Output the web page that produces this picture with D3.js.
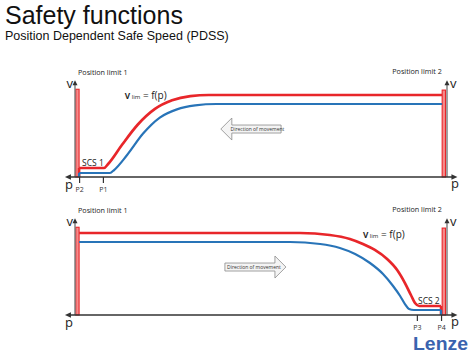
<!DOCTYPE html>
<html>
<head>
<meta charset="utf-8">
<script src="https://cdn.jsdelivr.net/npm/d3@7/dist/d3.min.js"></script>
<style>
  html, body { margin: 0; padding: 0; background: #fff; }
  svg { display: block; }
</style>
</head>
<body>
<script>
// ---------- DATA (position 0..100, speed 0..100) ----------
const titleText = "Safety functions";
const subtitleText = "Position Dependent Safe Speed (PDSS)";

// Top panel: movement towards position limit 1 (leftwards)
const topLimitCurve = [ // v_lim = f(p), red
  [1.1, 11], [7.8, 11], [8.9, 15.9], [12.6, 39], [16.9, 64], [21.5, 83],
  [26.1, 93.5], [31, 98.6], [36, 100], [40, 100], [98.7, 100]
];
const topSpeedCurve = [ // actual speed, blue
  [1.1, 4.9], [9.4, 4.9], [10.5, 8.5], [14, 26.8], [18.3, 53], [22.8, 72.5],
  [27.4, 82.5], [32.3, 87.3], [38, 89], [42, 89], [98.7, 89]
];
const topTickValues = [1.1, 7.5];
const topTickLabels = ["P2", "P1"];
const topScsLabel = "SCS 1";

// Bottom panel: movement towards position limit 2 (rightwards)
const bottomLimitCurve = [
  [1.1, 100], [55, 100], [60.5, 100], [68.5, 97.6], [73.9, 92.7], [77.4, 86.6],
  [80.6, 79.3], [83.9, 68.3], [86.6, 54.9], [88.7, 39], [90.3, 24.4],
  [91.4, 14.6], [92.5, 11], [98.4, 11]
];
const bottomSpeedCurve = [
  [1.1, 89], [52, 89], [57.8, 89], [65.9, 86.6], [71.2, 81.7], [75.3, 74.4],
  [79.3, 63.4], [82.8, 50], [85.5, 35.4], [87.4, 23.2], [88.7, 13.4],
  [89.8, 7.3], [91.1, 6.1], [98.4, 6.1]
];
const bottomTickValues = [91.9, 98.4];
const bottomTickLabels = ["P3", "P4"];
const bottomScsLabel = "SCS 2";

const limitLabels = ["Position limit 1", "Position limit 2"];
const limitBarLeft = [0.2, 1.1, 107];    // [p0, p1, top v]
const limitBarRight = [98.7, 99.6, 106];
const axisTopV = 118;
const xAxisExtent = [-2.7, 102.8];

// ---------- LAYOUT ----------
const W = 474, H = 353;
const RED = "#e8262a", BLUE = "#2874b8";
const svg = d3.select("body").append("svg").attr("width", W).attr("height", H);

svg.append("text").attr("x", 5).attr("y", 24)
  .attr("font-family", "Liberation Sans, Arial, sans-serif").attr("font-size", 25)
  .attr("fill", "#111").text(titleText);
svg.append("text").attr("x", 5).attr("y", 39.5)
  .attr("font-family", "Liberation Sans, Arial, sans-serif").attr("font-size", 12.5)
  .attr("fill", "#111").text(subtitleText);

const x = d3.scaleLinear().domain([0, 100]).range([75, 447]);
const SMALL = "Open Sans, DejaVu Sans, sans-serif";

function panel(cfg) {
  const y = d3.scaleLinear().domain([0, 100]).range([cfg.axisY, cfg.axisY - 82]);
  const g = svg.append("g");

  // limit bars
  [limitBarLeft, limitBarRight].forEach(b => {
    g.append("rect")
      .attr("x", x(b[0])).attr("width", x(b[1]) - x(b[0]))
      .attr("y", y(b[2])).attr("height", y(0) - y(b[2]))
      .attr("fill", "#f58a8a").attr("stroke", RED).attr("stroke-width", 1.1);
  });

  // vertical axes (gray) with arrowheads
  [0, 100].forEach(p => {
    g.append("line").attr("x1", x(p)).attr("x2", x(p))
      .attr("y1", y(0)).attr("y2", y(axisTopV) + 3)
      .attr("stroke", "#7a7a7a").attr("stroke-width", 1.4);
    g.append("path")
      .attr("d", `M${x(p)},${y(axisTopV)} l-2.5,5 l5,0 z`)
      .attr("fill", "#333");
  });

  // curves
  const line = d3.line().x(d => x(d[0])).y(d => y(d[1])).curve(d3.curveMonotoneX);
  const drops = cfg.dropAtEnd ? [cfg.limit[cfg.limit.length - 1], cfg.speed[cfg.speed.length - 1]]
                              : [cfg.limit[0], cfg.speed[0]];
  const colors = [RED, BLUE];
  drops.forEach((d, i) => {
    g.append("line").attr("x1", x(d[0])).attr("x2", x(d[0]))
      .attr("y1", y(0)).attr("y2", y(d[1]))
      .attr("stroke", colors[i]).attr("stroke-width", i === 0 ? 2.6 : 2.2);
  });
  g.append("path").datum(cfg.speed).attr("d", line)
    .attr("fill", "none").attr("stroke", BLUE).attr("stroke-width", 2.2);
  g.append("path").datum(cfg.limit).attr("d", line)
    .attr("fill", "none").attr("stroke", RED).attr("stroke-width", 2.7);

  // horizontal axis with ticks
  const axis = d3.axisBottom(x).tickValues(cfg.ticks)
    .tickFormat((d, i) => cfg.tickLabels[i]).tickSize(6).tickPadding(4);
  const ax = g.append("g").attr("transform", `translate(0,${y(0)})`).call(axis);
  ax.select(".domain").remove();
  ax.selectAll(".tick line").attr("stroke", "#333").attr("stroke-width", 1.2);
  ax.selectAll(".tick text").attr("font-family", SMALL).attr("font-size", 7).attr("fill", "#333");

  g.append("line").attr("x1", x(xAxisExtent[0]) + 4).attr("x2", x(xAxisExtent[1]) - 4)
    .attr("y1", y(0)).attr("y2", y(0)).attr("stroke", "#333").attr("stroke-width", 1.4);
  g.append("path").attr("d", `M${x(xAxisExtent[0])},${y(0)} l6,-2.8 l0,5.6 z`).attr("fill", "#333");
  g.append("path").attr("d", `M${x(xAxisExtent[1])},${y(0)} l-6,-2.8 l0,5.6 z`).attr("fill", "#333");

  // axis letters
  const letter = (tx, ty, t, anchor) => g.append("text").attr("x", tx).attr("y", ty)
    .attr("font-family", SMALL).attr("font-size", 13).attr("fill", "#222")
    .attr("text-anchor", anchor).text(t);
  letter(x(0) - 2, y(axisTopV) + 8, "v", "end");
  letter(x(100) + 3, y(axisTopV) + 8, "v", "start");
  letter(x(0) - 10, y(0) + 12, "p", "start");
  letter(x(100) + 4, y(0) + 11, "p", "start");

  // position limit labels
  g.append("text").attr("x", x(0) + 3).attr("y", y(axisTopV) - 5)
    .attr("font-family", SMALL).attr("font-size", 7.2).attr("fill", "#222").text(limitLabels[0]);
  g.append("text").attr("x", x(100) - 30).attr("y", y(axisTopV) - 6.5)
    .attr("text-anchor", "middle")
    .attr("font-family", SMALL).attr("font-size", 7.2).attr("fill", "#222").text(limitLabels[1]);

  // SCS label
  g.append("text").attr("x", x(cfg.scsAt)).attr("y", y(cfg.scsV) - 1.5)
    .attr("font-family", SMALL).attr("font-size", 8.5).attr("fill", "#222").text(cfg.scsLabel);

  // v lim = f(p)
  const vl = g.append("text").attr("x", x(cfg.vlimAt[0])).attr("y", y(cfg.vlimAt[1]))
    .attr("font-family", SMALL).attr("fill", "#222");
  vl.append("tspan").attr("font-size", 10).attr("font-weight", 600).text("v");
  vl.append("tspan").attr("font-size", 6).text(" lim");
  vl.append("tspan").attr("font-size", 10).text(" = f(p)");

  // direction arrow
  const a = cfg.arrow; // [tail p, tip p, center v]
  const tx = x(a[1]), sx = x(a[0]), cy = y(a[2]);
  const dir = Math.sign(tx - sx), hl = 11 * dir, hh = 11, sh = 4;
  const pts = [[sx, cy - sh], [tx - hl, cy - sh], [tx - hl, cy - hh], [tx, cy],
               [tx - hl, cy + hh], [tx - hl, cy + sh], [sx, cy + sh]];
  g.append("path").attr("d", "M" + pts.map(p => p.join(",")).join("L") + "Z")
    .attr("fill", "#f4f4f4").attr("stroke", "#8a8a8a").attr("stroke-width", 0.8);
  const textX = dir < 0 ? (sx + tx - hl) / 2 + 1 : (sx + tx - hl) / 2 + 4;
  g.append("text").attr("x", textX).attr("y", cy + 1.8).attr("text-anchor", "middle")
    .attr("font-family", SMALL).attr("font-size", 5).attr("fill", "#333")
    .text("Direction of movement");
}

panel({
  axisY: 177, limit: topLimitCurve, speed: topSpeedCurve, dropAtEnd: false,
  ticks: topTickValues, tickLabels: topTickLabels,
  scsLabel: topScsLabel, scsAt: 1.9, scsV: 11,
  vlimAt: [13.4, 95.5], arrow: [55.4, 39.2, 58.5]
});
panel({
  axisY: 315, limit: bottomLimitCurve, speed: bottomSpeedCurve, dropAtEnd: true,
  ticks: bottomTickValues, tickLabels: bottomTickLabels,
  scsLabel: bottomScsLabel, scsAt: 92.2, scsV: 11,
  vlimAt: [77.4, 93.9], arrow: [40.3, 56.7, 58.5]
});

// Lenze logo (as text)
svg.append("text").attr("x", 413).attr("y", 350)
  .attr("font-family", "Liberation Sans, Arial, sans-serif").attr("font-weight", "bold")
  .attr("font-size", 19).attr("fill", "#3a63ae")
  .attr("textLength", 55).attr("lengthAdjust", "spacingAndGlyphs").text("Lenze");
</script>
</body>
</html>
